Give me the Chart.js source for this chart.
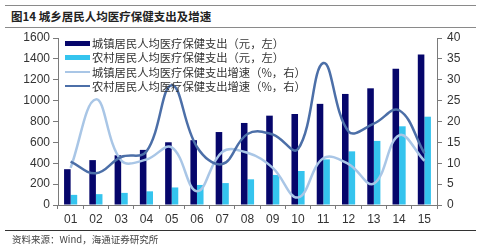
<!DOCTYPE html>
<html>
<head>
<meta charset="utf-8">
<script src="https://cdn.jsdelivr.net/npm/chart.js@4.4.0/dist/chart.umd.min.js"></script>
<style>
  body { margin: 0; background: #fff; }
  #wrap { position: relative; width: 500px; height: 251px; overflow: hidden; font-family: "Liberation Sans", Arial, sans-serif; }
  #chart { position: absolute; left: 0; top: 0; }
  .rule { position: absolute; left: 5px; width: 471px; }
  #title { position: absolute; left: 11px; top: 8px; font: bold 11.5px "Noto Sans CJK SC", sans-serif; color: #222; white-space: nowrap; }
  #source { position: absolute; left: 12px; top: 232px; font: 9.5px "Noto Sans CJK SC", sans-serif; color: #444; white-space: nowrap; }
  #legend { position: absolute; left: 65px; top: 36px; font: 11.3px "Noto Sans CJK SC", sans-serif; color: #333; }
  #legend .row { height: 14.3px; line-height: 14.3px; display: flex; align-items: center; white-space: nowrap; }
  #legend .mark { width: 25px; margin-right: 2px; }
</style>
</head>
<body>
<div id="wrap">
  <div class="rule" style="top:5px;border-top:1.5px solid #8a8a8a;"></div>
  <div id="title">图14 城乡居民人均医疗保健支出及增速</div>
  <div class="rule" style="top:27px;border-top:1.5px solid #8a8a8a;"></div>
  <canvas id="chart" width="500" height="251"></canvas>
  <div id="legend"></div>
  <div class="rule" style="top:230px;border-top:1px solid #333;"></div>
  <div id="source">资料来源：Wind，海通证券研究所</div>
</div>
<script>
// 年份（2001-2015）
const years = ['01', '02', '03', '04', '05', '06', '07', '08', '09', '10', '11', '12', '13', '14', '15'];

// 人均医疗保健支出（元，左轴）
const urbanSpend = [343, 430, 476, 528, 601, 621, 699, 786, 856, 872, 969, 1064, 1118, 1306, 1443];
const ruralSpend = [97, 104, 116, 131, 168, 192, 210, 246, 288, 326, 437, 514, 614, 754, 846];

// 增速（%，右轴）
const urbanGrowth = [8.9, 25.3, 10.7, 10.9, 13.8, 3.3, 12.7, 12.5, 8.9, 1.8, 11.2, 9.8, 5.1, 16.7, 10.6];
const ruralGrowth = [10.4, 7.6, 11.5, 12.8, 28.7, 13.9, 9.8, 17.0, 16.9, 13.4, 34.0, 17.6, 19.5, 22.7, 12.4];

const leftTicks = [0, 1600, 200];
const rightTicks = [0, 40, 5];

const tickFont = { family: '"Liberation Sans", Arial, sans-serif', size: 12 };
const axisColor = '#7a7a7a';

const ctx = document.getElementById('chart').getContext('2d');
const chart = new Chart(ctx, {
    data: {
        labels: years,
        datasets: [
            { type: 'bar', label: '城镇居民人均医疗保健支出（元，左）', data: urbanSpend, yAxisID: 'y',
              backgroundColor: '#06066b', barPercentage: 1.0, categoryPercentage: 0.52, order: 3 },
            { type: 'bar', label: '农村居民人均医疗保健支出（元，左）', data: ruralSpend, yAxisID: 'y',
              backgroundColor: '#35c4ee', barPercentage: 1.0, categoryPercentage: 0.52, order: 3 },
            { type: 'line', label: '城镇居民人均医疗保健支出增速（%，右）', data: urbanGrowth, yAxisID: 'y1',
              borderColor: '#a9c6e6', borderWidth: 2.5, pointRadius: 0, tension: 0.4, fill: false, order: 1 },
            { type: 'line', label: '农村居民人均医疗保健支出增速（%，右）', data: ruralGrowth, yAxisID: 'y1',
              borderColor: '#4c6fa8', borderWidth: 2.5, pointRadius: 0, tension: 0.4, fill: false, order: 0 }
        ]
    },
    options: {
        responsive: false,
        animation: false,
        layout: { padding: { top: 38, left: 0, right: 0, bottom: 0 } },
        plugins: { legend: { display: false }, tooltip: { enabled: false } },
        scales: {
            x: {
                offset: true,
                grid: { offset: true, drawOnChartArea: false, drawTicks: true, tickLength: 4, color: axisColor },
                border: { display: true, color: axisColor, width: 1 },
                ticks: { color: '#333', font: tickFont, padding: 3, maxRotation: 0, autoSkip: false },
                afterFit: s => { s.height = 46; }
            },
            y: {
                position: 'left',
                min: leftTicks[0], max: leftTicks[1],
                grid: { drawOnChartArea: false, drawTicks: true, tickLength: 5, color: axisColor },
                border: { display: true, color: axisColor, width: 1 },
                ticks: { stepSize: leftTicks[2], color: '#333', font: tickFont, padding: 3, callback: v => String(v) },
                afterFit: s => { s.width = 58; }
            },
            y1: {
                position: 'right',
                min: rightTicks[0], max: rightTicks[1],
                grid: { drawOnChartArea: false, drawTicks: true, tickLength: 5, color: axisColor },
                border: { display: true, color: axisColor, width: 1 },
                ticks: { stepSize: rightTicks[2], color: '#333', font: tickFont, padding: 5, callback: v => String(v) },
                afterFit: s => { s.width = 63; }
            }
        }
    }
});

// --- 图例（HTML） ---
const legendDiv = document.getElementById('legend');
chart.data.datasets.forEach(ds => {
    const row = document.createElement('div');
    row.className = 'row';
    const mark = document.createElement('span');
    mark.className = 'mark';
    if (ds.type === 'bar') {
        mark.style.height = '5px';
        mark.style.background = ds.backgroundColor;
    } else {
        mark.style.height = '0';
        mark.style.borderTop = '2px solid ' + ds.borderColor;
    }
    const txt = document.createElement('span');
    txt.textContent = ds.label;
    row.appendChild(mark);
    row.appendChild(txt);
    legendDiv.appendChild(row);
});
</script>
</body>
</html>
